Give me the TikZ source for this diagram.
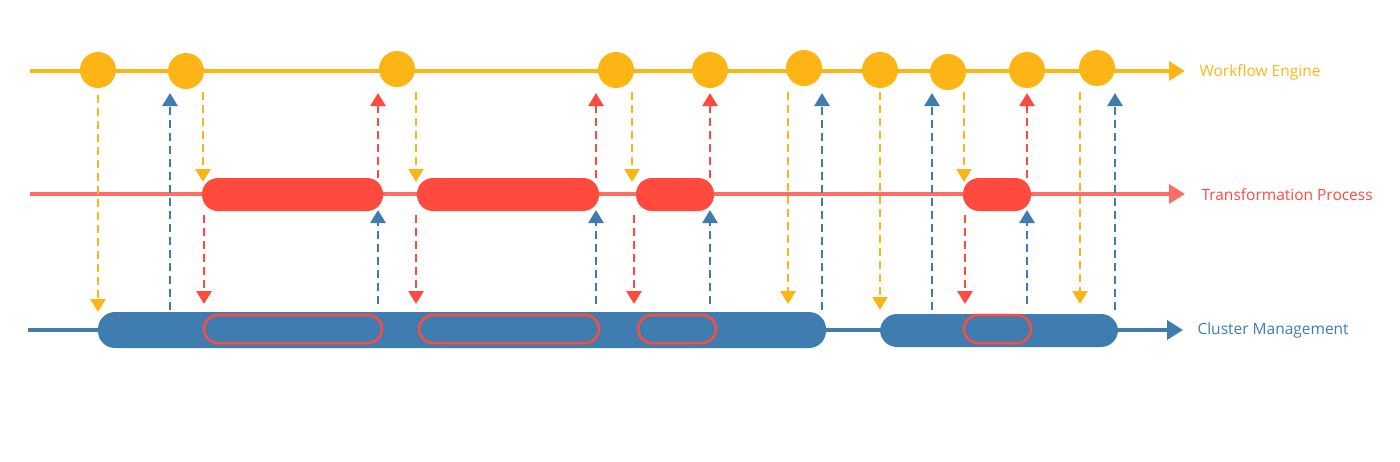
\documentclass[tikz,border=0pt]{standalone}
\usepackage{fontspec}
\setmainfont{Open Sans}
\usetikzlibrary{arrows.meta}
\definecolor{wy}{HTML}{FDB515}
\definecolor{tr}{HTML}{FF4A3D}
\definecolor{cb}{HTML}{3F7DB0}
\begin{document}
\begin{tikzpicture}[x=1pt,y=-1pt,
  dot/.style={circle,fill=wy,minimum size=36pt,inner sep=0pt},
  tbar/.style={fill=tr,rounded corners=16pt},
  cbar/.style={fill=cb,rounded corners=17pt},
  tout/.style={draw=tr,line width=2.5pt,rounded corners=14pt},
  link/.style={dashed,dash pattern=on 8pt off 5pt,line width=2.8pt,-{Triangle[width=15pt,length=13pt]}},
  lab/.style={anchor=west,font=\fontsize{15.5}{18}\selectfont}]
\useasboundingbox (0,0) rectangle (1400,461);
% timelines
\draw[wy,line width=3.5pt,-{Triangle[width=19pt,length=16pt]}] (30,71) -- (1185,71);
\draw[tr!80,line width=3.5pt,-{Triangle[width=19pt,length=16pt]}] (30,194) -- (1185,194);
\draw[cb,line width=3.5pt,-{Triangle[width=19pt,length=16pt]}] (28,330) -- (1183,330);
\node[lab,text=wy] at (1196,72) {Workflow Engine};
\node[lab,text=tr] at (1198,195) {Transformation Process};
\node[lab,text=cb] at (1194,330) {Cluster Management};
% bars
\fill[cbar] (98,312) rectangle (826,348);
\fill[cbar] (880,314) rectangle (1118,347);
\foreach \a/\b in {204/382,419/599,638/716,964/1031}
  \draw[tout] (\a,315) rectangle (\b,343);
\foreach \a/\b in {202/383,417/599,636/714,963/1031}
  \fill[tbar] (\a,178) rectangle (\b,211);
% events
\foreach \x/\y [count=\i] in {98/70,186/71,397/69,616/70,710/70,804/68,880/70,948/72,1027/70,1097/68}
  \node[dot] (e\i) at (\x,\y) {};
% arrows
\foreach \x/\s/\t in {98/95/312,203/92/182,416/92/182,632/92/182,788/92/304,880/92/310,964/92/182,1080/92/304}
  \draw[link,wy] (\x,\s) -- (\x,\t);
\foreach \x in {204,416,634,965}
  \draw[link,tr] (\x,215) -- (\x,304);
\foreach \x in {378,596,710,1027}
  \draw[link,tr] (\x,178) -- (\x,93);
\foreach \x in {378,596,710,1027}
  \draw[link,cb] (\x,304) -- (\x,210);
\foreach \x in {170,822,932,1115}
  \draw[link,cb] (\x,310) -- (\x,93);
\end{tikzpicture}
\end{document}
